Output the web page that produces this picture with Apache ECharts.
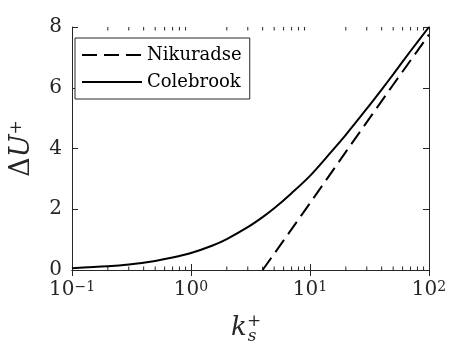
<!DOCTYPE html>
<html><head><meta charset="utf-8">
<script src="https://cdn.jsdelivr.net/npm/echarts@6/dist/echarts.min.js"></script>
<style>html,body{margin:0;padding:0;background:#fff}#c{width:474px;height:347px}</style>
</head><body><div id="c"></div>
<script>
const colebrookKs = [0.1, 0.2, 0.3, 0.5, 0.7, 1, 1.5, 2, 3, 4, 5, 7, 10, 15, 20, 30, 40, 50, 70, 100];
const colebrookDU = [0.06, 0.12, 0.18, 0.30, 0.41, 0.56, 0.80, 1.02, 1.41, 1.74, 2.03, 2.53, 3.10, 3.88, 4.45, 5.31, 5.94, 6.44, 7.21, 8.0];
const nikuradseKs = [4.0, 10, 20, 50, 100];
const nikuradseDU = [0, 2.2, 3.89, 6.10, 7.75];
const xTickValues = [0.1, 1, 10, 100];
const xTickExponents = ['\u22121', '0', '1', '2'];
const yTickValues = [0, 2, 4, 6, 8];
const xMinorTicks = [0.2,0.3,0.4,0.5,0.6,0.7,0.8,0.9, 2,3,4,5,6,7,8,9, 20,30,40,50,60,70,80,90];

const SERIF = '"DejaVu Serif", serif';
const AX = '#262626';
const zip = (a, b) => a.map((v, i) => [v, b[i]]);
const yMin = yTickValues[0], yMax = yTickValues[yTickValues.length - 1];

const chart = echarts.init(document.getElementById('c'), null, {renderer: 'canvas'});

const baseX = {
  type: 'log', logBase: 10, min: xTickValues[0], max: xTickValues[xTickValues.length - 1],
  axisLine: {show: true, lineStyle: {color: AX, width: 1}},
  axisTick: {show: true, inside: true, length: 6, lineStyle: {color: AX, width: 1}},
  minorTick: {show: false}, splitLine: {show: false}
};
const baseY = {
  type: 'value', min: yMin, max: yMax, interval: 2,
  axisLine: {show: true, lineStyle: {color: AX, width: 1}},
  axisTick: {show: true, inside: true, length: 6, lineStyle: {color: AX, width: 1}},
  splitLine: {show: false}
};

const option = {
  animation: false,
  backgroundColor: '#fff',
  grid: {left: 64, right: 45, top: 27, bottom: 77},
  legend: {
    orient: 'vertical', left: 75, top: 38,
    data: ['Nikuradse', 'Colebrook'],
    itemWidth: 60, itemHeight: 14, itemGap: 9,
    padding: [8, 8, 8, 6],
    borderColor: AX, borderWidth: 1, backgroundColor: '#fff',
    itemStyle: {opacity: 0},
    textStyle: {fontFamily: SERIF, fontSize: 18, color: '#000'}
  },
  xAxis: [
    Object.assign({}, baseX, {
      position: 'bottom',
      axisLabel: {
        margin: 10,
        formatter: v => {
          const i = xTickValues.findIndex(t => Math.abs(Math.log10(t) - Math.log10(v)) < 1e-6);
          return i < 0 ? '' : '{b|10}{e|' + xTickExponents[i] + '}';
        },
        rich: {
          b: {fontFamily: SERIF, fontSize: 20, color: AX},
          e: {fontFamily: SERIF, fontSize: 14, color: AX, verticalAlign: 'top'}
        }
      }
    }),
    Object.assign({}, baseX, {position: 'top', axisLabel: {show: false}})
  ],
  yAxis: [
    Object.assign({}, baseY, {
      position: 'left',
      axisLabel: {margin: 10, fontFamily: SERIF, fontSize: 20, color: AX},
      name: '{d|\u0394}{u|U}{p|+}',
      nameLocation: 'middle', nameRotate: 90, nameGap: 37,
      nameTextStyle: {
        rich: {
          d: {fontFamily: SERIF, fontSize: 27, color: AX},
          u: {fontFamily: SERIF, fontStyle: 'italic', fontSize: 27, color: AX},
          p: {fontFamily: SERIF, fontSize: 17, color: AX, verticalAlign: 'top'}
        }
      }
    }),
    Object.assign({}, baseY, {position: 'right', axisLabel: {show: false}})
  ],
  graphic: [
    {type: 'text', x: 239, y: 328, style: {text: 'k', font: 'italic 26px "DejaVu Serif"', fill: AX, align: 'center', verticalAlign: 'middle'}},
    {type: 'text', x: 254, y: 322, style: {text: '+', font: '17px "DejaVu Serif"', fill: AX, align: 'center', verticalAlign: 'middle'}},
    {type: 'text', x: 252, y: 337, style: {text: 's', font: 'italic 17px "DejaVu Serif"', fill: AX, align: 'center', verticalAlign: 'middle'}}
  ],
  series: [
    {
      name: 'Nikuradse', type: 'line', symbol: 'none', color: '#000',
      data: zip(nikuradseKs, nikuradseDU),
      lineStyle: {color: '#000', width: 2, type: [15, 7]}
    },
    {
      name: 'Colebrook', type: 'line', symbol: 'none', color: '#000', smooth: 0.3,
      data: zip(colebrookKs, colebrookDU),
      lineStyle: {color: '#000', width: 2}
    },
    {
      name: 'minorTicks', type: 'custom', silent: true, clip: false,
      data: xMinorTicks.map(v => [v, yMin]),
      renderItem: (params, api) => {
        const v = api.value(0);
        const b = api.coord([v, yMin]);
        const t = api.coord([v, yMax]);
        return {
          type: 'group', children: [
            {type: 'line', shape: {x1: b[0], y1: b[1], x2: b[0], y2: b[1] - 3.5}, style: {stroke: AX, lineWidth: 1}},
            {type: 'line', shape: {x1: t[0], y1: t[1], x2: t[0], y2: t[1] + 3.5}, style: {stroke: AX, lineWidth: 1}}
          ]
        };
      }
    }
  ]
};
chart.setOption(option);
</script>
</body></html>
